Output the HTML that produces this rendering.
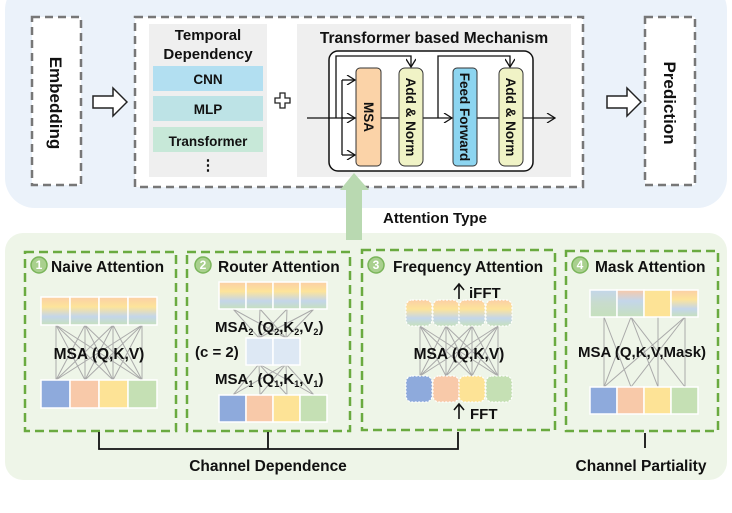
<!DOCTYPE html>
<html><head><meta charset="utf-8"><style>
html,body{margin:0;padding:0;background:#fff;}
svg{display:block;}
text{font-family:"Liberation Sans",Arial,sans-serif;font-weight:bold;fill:#111;}
</style></head><body>
<svg width="732" height="513" viewBox="0 0 732 513" xmlns="http://www.w3.org/2000/svg">
<defs>
<linearGradient id="g" x1="0" y1="0" x2="0" y2="1">
<stop offset="0" stop-color="#fbcfa6"/><stop offset="0.35" stop-color="#fde49a"/><stop offset="0.7" stop-color="#c4d6ea"/><stop offset="1" stop-color="#c6e0bd"/>
</linearGradient>
<linearGradient id="g2" x1="0" y1="0" x2="0" y2="1">
<stop offset="0" stop-color="#f8c9a9"/><stop offset="0.4" stop-color="#c4d6ea"/><stop offset="1" stop-color="#c6e0bd"/>
</linearGradient>
<linearGradient id="g3" x1="0" y1="0" x2="0" y2="1">
<stop offset="0" stop-color="#c4d6ea"/><stop offset="0.5" stop-color="#c8dccc"/><stop offset="1" stop-color="#c6e0bd"/>
</linearGradient>
<marker id="ar" markerWidth="10" markerHeight="10" refX="9" refY="5" orient="auto" markerUnits="userSpaceOnUse"><path d="M1,0 L9,5 L1,10" fill="none" stroke="#111" stroke-width="1.3"/></marker>
</defs>
<rect x="5" y="-20" width="722" height="228" rx="30" fill="#ebf2fa"/>
<rect x="32" y="17" width="49" height="168" fill="#fff" stroke="#777" stroke-width="2.5" stroke-dasharray="8,5"/>
<text transform="translate(50,103) rotate(90)" font-size="17" text-anchor="middle">Embedding</text>
<path d="M93,96 H113 V88 L127,102 L113,116 V108 H93 Z" fill="#fff" stroke="#222" stroke-width="1.5"/>
<rect x="135" y="17" width="448" height="170" fill="#fff" stroke="#777" stroke-width="2.5" stroke-dasharray="8,5"/>
<rect x="149" y="24" width="118" height="153" fill="#efefef"/>
<text x="208" y="40" font-size="15" text-anchor="middle">Temporal</text>
<text x="208" y="59" font-size="15" text-anchor="middle">Dependency</text>
<rect x="153" y="66" width="110" height="25" fill="#b2dff1"/><text x="208" y="84" font-size="13.5" text-anchor="middle">CNN</text>
<rect x="153" y="96" width="110" height="25" fill="#bde3e6"/><text x="208" y="114" font-size="13.5" text-anchor="middle">MLP</text>
<rect x="153" y="127" width="110" height="25" fill="#c7e8d8"/><text x="208" y="146" font-size="13.5" text-anchor="middle">Transformer</text>
<text x="208" y="170" font-size="15" text-anchor="middle">⋮</text>
<path d="M281,97 h5 v-5 h5 v5 h5 v5 h-5 v5 h-5 v-5 h-5 z" fill="#fff" stroke="#222" stroke-width="1.3" transform="translate(-6,1)"/>
<rect x="297" y="24" width="274" height="153" fill="#efefef"/>
<text x="434" y="43" font-size="15.5" text-anchor="middle">Transformer based Mechanism</text>
<rect x="329" y="51" width="204" height="120" rx="9" fill="#fff" stroke="#111" stroke-width="1.5"/>
<g stroke="#111" stroke-width="1.3" fill="none">
<line x1="307" y1="118" x2="356" y2="118"/>
<line x1="381" y1="118" x2="399" y2="118"/>
<line x1="423" y1="118" x2="452" y2="118" marker-end="url(#ar)"/>
<line x1="477" y1="118" x2="499" y2="118"/>
<line x1="523" y1="118" x2="555" y2="118" marker-end="url(#ar)"/>
<path d="M342,80 V155"/>
<line x1="342" y1="80" x2="355" y2="80" marker-end="url(#ar)"/>
<line x1="342" y1="118" x2="355" y2="118" marker-end="url(#ar)"/>
<line x1="342" y1="155" x2="355" y2="155" marker-end="url(#ar)"/>
<path d="M336,118 V56 H411 V67" marker-end="url(#ar)"/>
<path d="M438,118 V56 H510 V67" marker-end="url(#ar)"/>
</g>
<rect x="356" y="68" width="25" height="98" rx="4" fill="#fbd3a8" stroke="#333" stroke-width="1"/>
<rect x="399" y="68" width="24" height="98" rx="6" fill="#f0f3c6" stroke="#333" stroke-width="1"/>
<rect x="453" y="68" width="24" height="98" rx="4" fill="#8dd5f0" stroke="#333" stroke-width="1"/>
<rect x="499" y="68" width="24" height="98" rx="6" fill="#f0f3c6" stroke="#333" stroke-width="1"/>
<text transform="translate(364,117) rotate(90)" font-size="13.5" text-anchor="middle">MSA</text>
<text transform="translate(406,117) rotate(90)" font-size="13.5" text-anchor="middle">Add &amp; Norm</text>
<text transform="translate(460,117) rotate(90)" font-size="13.5" text-anchor="middle">Feed Forward</text>
<text transform="translate(506,117) rotate(90)" font-size="13.5" text-anchor="middle">Add &amp; Norm</text>
<path d="M607,96 H627 V88 L641,102 L627,116 V108 H607 Z" fill="#fff" stroke="#222" stroke-width="1.5"/>
<rect x="645" y="17" width="50" height="168" fill="#fff" stroke="#777" stroke-width="2.5" stroke-dasharray="8,5"/>
<text transform="translate(664,103) rotate(90)" font-size="17" text-anchor="middle">Prediction</text>
<rect x="5" y="233" width="722" height="247" rx="18" fill="#eef5e8"/>
<path d="M340,190 L354,173 L369,190 H362 V240 H346 V190 Z" fill="#b9d9b1"/>
<text x="435" y="223" font-size="15" text-anchor="middle">Attention Type</text>
<g fill="none" stroke="#6aaa40" stroke-width="2.5" stroke-dasharray="9,5">
<rect x="25" y="252" width="151" height="179"/>
<rect x="187" y="252" width="163" height="179"/>
<rect x="362" y="250" width="193" height="180"/>
<rect x="566" y="251" width="152" height="180"/>
</g>
<g fill="#a9d08e" stroke="#7ab55a" stroke-width="1.5">
<circle cx="39" cy="265" r="8"/><circle cx="203" cy="265" r="8"/><circle cx="376" cy="265" r="8"/><circle cx="580" cy="265" r="8"/>
</g>
<g font-size="12" text-anchor="middle">
<text x="39" y="269" style="fill:#fff">1</text><text x="203" y="269" style="fill:#fff">2</text><text x="376" y="269" style="fill:#fff">3</text><text x="580" y="269" style="fill:#fff">4</text>
</g>
<text x="51" y="272" font-size="15.5">Naive Attention</text>
<text x="218" y="272" font-size="15.5">Router Attention</text>
<text x="393" y="272" font-size="15.5">Frequency Attention</text>
<text x="595" y="272" font-size="15.5">Mask Attention</text>
<g stroke="#aaa" stroke-width="1">
<path d="M56,325 L56,380 M56,325 L85,380 M56,325 L113,380 M56,325 L142,380 M85,325 L56,380 M85,325 L85,380 M85,325 L113,380 M85,325 L142,380 M113,325 L56,380 M113,325 L85,380 M113,325 L113,380 M113,325 L142,380 M142,325 L56,380 M142,325 L85,380 M142,325 L113,380 M142,325 L142,380"/>
</g>
<g stroke="#fff" stroke-width="1.5">
<rect x="41" y="297" width="29" height="28" fill="url(#g)"/><rect x="70" y="297" width="29" height="28" fill="url(#g)"/><rect x="99" y="297" width="29" height="28" fill="url(#g)"/><rect x="128" y="297" width="29" height="28" fill="url(#g)"/>
<rect x="41" y="380" width="29" height="28" fill="#8eaadc"/><rect x="70" y="380" width="29" height="28" fill="#f8c9a9"/><rect x="99" y="380" width="29" height="28" fill="#fde396"/><rect x="128" y="380" width="29" height="28" fill="#c5e0b4"/>
</g>
<text x="99" y="359" font-size="15.5" text-anchor="middle">MSA (Q,K,V)</text>
<g stroke="#aaa" stroke-width="1">
<path d="M233,309 L259,338 M260,309 L259,338 M260,309 L286,338 M287,309 L259,338 M287,309 L286,338 M314,309 L286,338 M233,309 L286,338 M314,309 L259,338"/>
<path d="M233,395 L259,364 M260,395 L259,364 M260,395 L286,364 M287,395 L259,364 M287,395 L286,364 M314,395 L286,364 M233,395 L286,364 M314,395 L259,364"/>
</g>
<g stroke="#fff" stroke-width="1.5">
<rect x="219" y="282" width="27" height="27" fill="url(#g)"/><rect x="246" y="282" width="27" height="27" fill="url(#g)"/><rect x="273" y="282" width="27" height="27" fill="url(#g)"/><rect x="300" y="282" width="27" height="27" fill="url(#g)"/>
<rect x="246" y="338" width="27" height="27" fill="#dde8f4"/><rect x="273" y="338" width="27" height="27" fill="#dde8f4"/>
<rect x="219" y="395" width="27" height="27" fill="#8eaadc"/><rect x="246" y="395" width="27" height="27" fill="#f8c9a9"/><rect x="273" y="395" width="27" height="27" fill="#fde396"/><rect x="300" y="395" width="27" height="27" fill="#c5e0b4"/>
</g>
<text x="215" y="332" font-size="15">MSA<tspan font-size="9" dy="3">2</tspan><tspan dy="-3"> (Q</tspan><tspan font-size="9" dy="3">2</tspan><tspan dy="-3">,K</tspan><tspan font-size="9" dy="3">2</tspan><tspan dy="-3">,V</tspan><tspan font-size="9" dy="3">2</tspan><tspan dy="-3">)</tspan></text>
<text x="195" y="357" font-size="15">(c = 2)</text>
<text x="215" y="384" font-size="15">MSA<tspan font-size="9" dy="3">1</tspan><tspan dy="-3"> (Q</tspan><tspan font-size="9" dy="3">1</tspan><tspan dy="-3">,K</tspan><tspan font-size="9" dy="3">1</tspan><tspan dy="-3">,V</tspan><tspan font-size="9" dy="3">1</tspan><tspan dy="-3">)</tspan></text>
<g stroke="#aaa" stroke-width="1">
<path d="M420,326 L420,376 M420,326 L446,376 M420,326 L472,376 M420,326 L498,376 M446,326 L420,376 M446,326 L446,376 M446,326 L472,376 M446,326 L498,376 M472,326 L420,376 M472,326 L446,376 M472,326 L472,376 M472,326 L498,376 M498,326 L420,376 M498,326 L446,376 M498,326 L472,376 M498,326 L498,376"/>
</g>
<g stroke="#fff" stroke-width="1.2" stroke-dasharray="2,1.5">
<rect x="406" y="300" width="26" height="26" rx="6" fill="url(#g)"/><rect x="433" y="300" width="26" height="26" rx="6" fill="url(#g)"/><rect x="459" y="300" width="26" height="26" rx="6" fill="url(#g)"/><rect x="486" y="300" width="26" height="26" rx="6" fill="url(#g)"/>
<rect x="406" y="376" width="26" height="26" rx="6" fill="#8eaadc"/><rect x="433" y="376" width="26" height="26" rx="6" fill="#f8c9a9"/><rect x="459" y="376" width="26" height="26" rx="6" fill="#fde396"/><rect x="486" y="376" width="26" height="26" rx="6" fill="#c5e0b4"/>
</g>
<text x="459" y="359" font-size="15.5" text-anchor="middle">MSA (Q,K,V)</text>
<g stroke="#111" stroke-width="1.6" fill="none">
<path d="M459,299 V285 M454,290 L459,284 L464,290"/>
<path d="M459,419 V405 M454,410 L459,404 L464,410"/>
</g>
<text x="469" y="298" font-size="15">iFFT</text>
<text x="470" y="419" font-size="15">FFT</text>
<g stroke="#aaa" stroke-width="1">
<path d="M604,317 L604,387 M604,317 L631,387 M631,317 L604,387 M631,317 L658,387 M631,317 L685,387 M658,317 L658,387 M685,317 L604,387 M685,317 L631,387 M685,317 L685,387"/>
</g>
<g stroke="#fff" stroke-width="1.5">
<rect x="590" y="290" width="27" height="27" fill="url(#g3)"/><rect x="617" y="290" width="27" height="27" fill="url(#g2)"/><rect x="644" y="290" width="27" height="27" fill="#fde396"/><rect x="671" y="290" width="27" height="27" fill="url(#g)"/>
<rect x="590" y="387" width="27" height="27" fill="#8eaadc"/><rect x="617" y="387" width="27" height="27" fill="#f8c9a9"/><rect x="644" y="387" width="27" height="27" fill="#fde396"/><rect x="671" y="387" width="27" height="27" fill="#c5e0b4"/>
</g>
<text x="642" y="357" font-size="15" text-anchor="middle">MSA (Q,K,V,Mask)</text>
<g stroke="#111" stroke-width="1.8" fill="none">
<path d="M99,432 V449 H458 V432 M268,432 V449"/>
<path d="M645,433 V448"/>
</g>
<text x="268" y="471" font-size="15.5" text-anchor="middle">Channel Dependence</text>
<text x="641" y="471" font-size="15.5" text-anchor="middle">Channel Partiality</text>
</svg>
</body></html>
